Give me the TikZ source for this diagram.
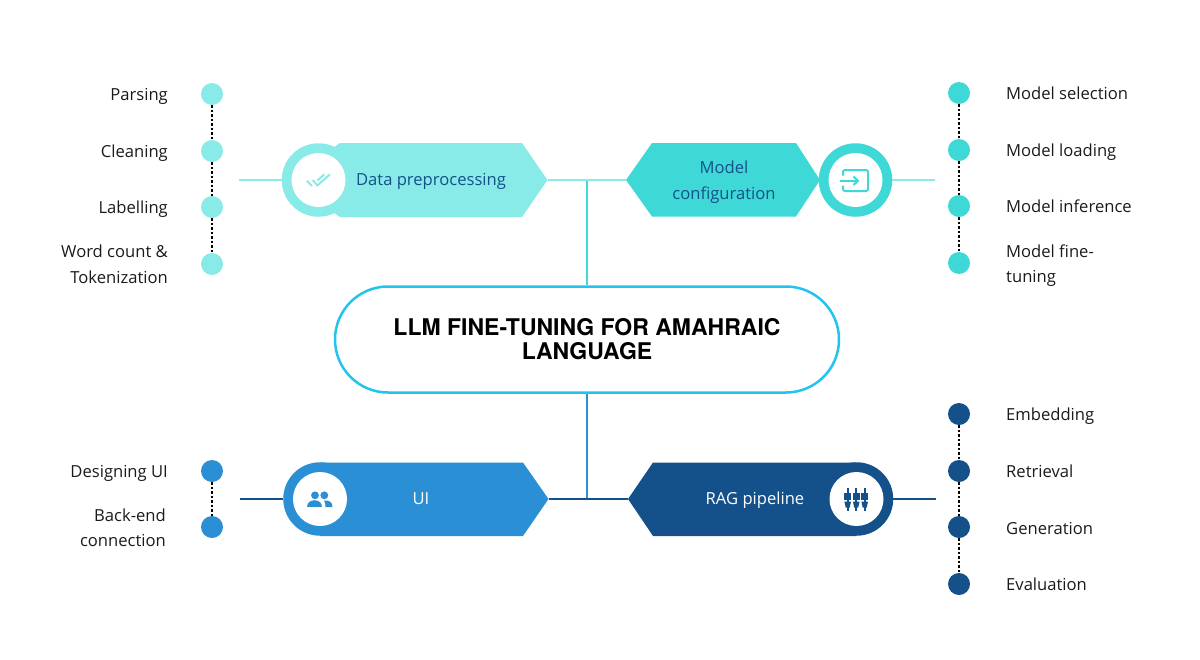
\documentclass[tikz,border=0pt]{standalone}
\usepackage{fontspec}
\setmainfont{Open Sans}
\newfontfamily\titlefont{TeX Gyre Heros}
\definecolor{aqua}{HTML}{88EBE8}
\definecolor{teal}{HTML}{3ED9D6}
\definecolor{azure}{HTML}{2B8FD6}
\definecolor{navy}{HTML}{14518A}
\definecolor{sky}{HTML}{22C4EE}
\definecolor{ink}{HTML}{1A1A1A}
\begin{document}
\begin{tikzpicture}[x=1pt, y=-1pt,
	main/.style = {circle, inner sep=0pt, minimum size=22pt},
	ring/.style = {circle, inner sep=0pt, minimum size=73.5pt},
	hole/.style = {circle, fill=white, inner sep=0pt, minimum size=54pt},
	letter/.style = {inner sep=0pt, text=ink, font=\fontsize{16.6}{25.5}\selectfont},
	oneline/.style = {text height=14pt, text depth=2pt},
	tag/.style = {inner sep=0pt, align=center, font=\fontsize{16.6}{25.5}\selectfont},
	linedot/.style = {line width=2.4pt, dash pattern=on 2.4pt off 2.1pt, black},
	link/.style = {line width=2.2pt},
	icon/.style = {line width=2pt, line join=round}]

	\useasboundingbox (0,0) rectangle (1200,659);

	% centre
	\node[draw=sky, line width=2.5pt, fill=white, rounded corners=53pt, minimum width=504pt, minimum height=106pt, inner sep=0pt, align=center,
		font=\titlefont\bfseries\fontsize{23}{24}\selectfont, text=black] (hub) at (587,339.5) {\raisebox{-1pt}{LLM FINE-TUNING FOR AMAHRAIC}\\\raisebox{-1pt}{LANGUAGE}};
	\coordinate (topjoin) at (587,180);
	\coordinate (lowjoin) at (587,499);

	% tips of the four arrows
	\coordinate (dptip) at (547.5,180);
	\coordinate (mctip) at (626,180);
	\coordinate (uitip) at (548.5,499);
	\coordinate (ragtip) at (628,499);
	\coordinate (dpend) at (239,180);
	\coordinate (mcend) at (935,180);
	\coordinate (uiend) at (240,499);
	\coordinate (ragend) at (936,499);

	% arrows
	\fill[aqua] (340,143) -- (522,143) -- (dptip) -- (522,217) -- (340,217) -- (330,210) -- (330,150) -- cycle;
	\fill[teal] (652,143) -- (796,143) -- (820,180) -- (796,216.5) -- (652,216.5) -- (mctip) -- cycle;
	\fill[azure] (320,462.5) -- (523,462.5) -- (uitip) -- (523,536) -- (320,536) -- cycle;
	\fill[navy] (653,462.5) -- (856,462.5) -- (856,536) -- (653,536) -- (ragtip) -- cycle;

	\node[ring, fill=aqua] (dpring) at (318.5,180) {};
	\node[hole] (dphole) at (318.5,180) {};
	\node[ring, fill=teal] (mcring) at (855.5,180) {};
	\node[hole] (mchole) at (855.5,180) {};
	\node[ring, fill=azure] (uiring) at (320,499) {};
	\node[hole] (uihole) at (320,499) {};
	\node[ring, fill=navy] (ragring) at (856.5,499) {};
	\node[hole] (raghole) at (856.5,499) {};

	\node[tag, oneline, text=navy] (dptext) at (431,179.5) {Data preprocessing};
	\node[tag, text=navy] (mctext) at (724,182) {Model\\configuration};
	\node[tag, oneline, text=white] (uitext) at (421,498.5) {UI};
	\node[tag, oneline, text=white] (ragtext) at (755,498.5) {RAG pipeline};

	% links
	\draw[link, teal] (hub) -- (topjoin);
	\draw[link, azure] (hub) -- (lowjoin);
	\draw[link, aqua] (dptip) -- (mctip);
	\draw[link, navy] (uitip) -- (ragtip);
	\draw[link, aqua] (dpend) -- (dpring);
	\draw[link, aqua] (mcring) -- (mcend);
	\draw[link, navy] (uiend) -- (uiring);
	\draw[link, navy] (ragring) -- (ragend);

	% icons
	\draw[icon, aqua] (306.7,180.7) -- (312,186);
	\draw[icon, aqua] (312.7,180) -- (317.3,185.5) -- (330,174.3);
	\draw[icon, aqua] (317.5,180.5) -- (324.3,174.3);

	\draw[icon, teal, rounded corners=1.5pt] (843,175.5) -- (843,170) -- (868,170) -- (868,191) -- (843,191) -- (843,185.5);
	\draw[icon, teal] (840,180.7) -- (858,180.7);
	\draw[icon, teal] (853.5,176.5) -- (858,180.7) -- (853.5,185);

	\fill[azure] (315,495.3) circle[radius=3.9pt];
	\fill[azure] (324.3,495.3) circle[radius=3.9pt];
	\fill[azure] (307.3,507) .. controls (307.3,497.5) and (322,497.5) .. (322,507) -- cycle;
	\fill[azure] (324,500.5) .. controls (329,500) and (332.5,502) .. (332.5,507) -- (325.5,507) .. controls (325.5,504) and (325,502) .. (324,500.5) -- cycle;

	\foreach \sx in {847.7,856.2,864.7} {
		\draw[navy, line width=1.8pt] (\sx,488) -- (\sx,511);
		\fill[navy] (\sx-3.3,492.8) rectangle (\sx+3.3,499.5);
		\fill[navy] (\sx-3.3,501.7) -- (\sx+3.3,501.7) -- (\sx+2,507.5) -- (\sx-2,507.5) -- cycle;
	}

	% top left
	\node[main, fill=aqua] (parsing) at (212,94) {};
	\node[main, fill=aqua] (cleaning) at (212,151) {};
	\node[main, fill=aqua] (labelling) at (212,207) {};
	\node[main, fill=aqua] (wordcount) at (212,264) {};
	\draw[linedot] (parsing) -- (cleaning);
	\draw[linedot] (cleaning) -- (labelling);
	\draw[linedot] (labelling) -- (wordcount);
	\node[letter, oneline, anchor=east] (parsingtext) at (168,94) {Parsing};
	\node[letter, oneline, anchor=east] (cleaningtext) at (168,151) {Cleaning};
	\node[letter, oneline, anchor=east] (labellingtext) at (168,207) {Labelling};
	\node[letter, anchor=east, align=right] (wordcounttext) at (168,264.5) {Word count \&\\Tokenization};

	% top right
	\node[main, fill=teal] (selection) at (959,93) {};
	\node[main, fill=teal] (loading) at (959,150) {};
	\node[main, fill=teal] (inference) at (959,206) {};
	\node[main, fill=teal] (finetuning) at (959,263) {};
	\draw[linedot] (selection) -- (loading);
	\draw[linedot] (loading) -- (inference);
	\draw[linedot] (inference) -- (finetuning);
	\node[letter, oneline, anchor=west] (selectiontext) at (1006,93) {Model selection};
	\node[letter, oneline, anchor=west] (loadingtext) at (1006,150) {Model loading};
	\node[letter, oneline, anchor=west] (inferencetext) at (1006,206) {Model inference};
	\node[letter, anchor=west, align=left] (finetuningtext) at (1006,265.5) {Model fine-\\tuning};

	% bottom left
	\node[main, fill=azure] (designing) at (212,471) {};
	\node[main, fill=azure] (backend) at (212,527) {};
	\draw[linedot] (designing) -- (backend);
	\node[letter, oneline, anchor=east] (designingtext) at (168,471) {Designing UI};
	\node[letter, anchor=east, align=right] (backendtext) at (166,528) {Back-end\\connection};

	% bottom right
	\node[main, fill=navy] (embedding) at (959,414) {};
	\node[main, fill=navy] (retrieval) at (959,471) {};
	\node[main, fill=navy] (generation) at (959,527) {};
	\node[main, fill=navy] (evaluation) at (959,584) {};
	\draw[linedot] (embedding) -- (retrieval);
	\draw[linedot] (retrieval) -- (generation);
	\draw[linedot] (generation) -- (evaluation);
	\node[letter, oneline, anchor=west] (embeddingtext) at (1006,414) {Embedding};
	\node[letter, oneline, anchor=west] (retrievaltext) at (1006,471) {Retrieval};
	\node[letter, oneline, anchor=west] (generationtext) at (1006,528) {Generation};
	\node[letter, oneline, anchor=west] (evaluationtext) at (1006,584) {Evaluation};
\end{tikzpicture}
\end{document}
